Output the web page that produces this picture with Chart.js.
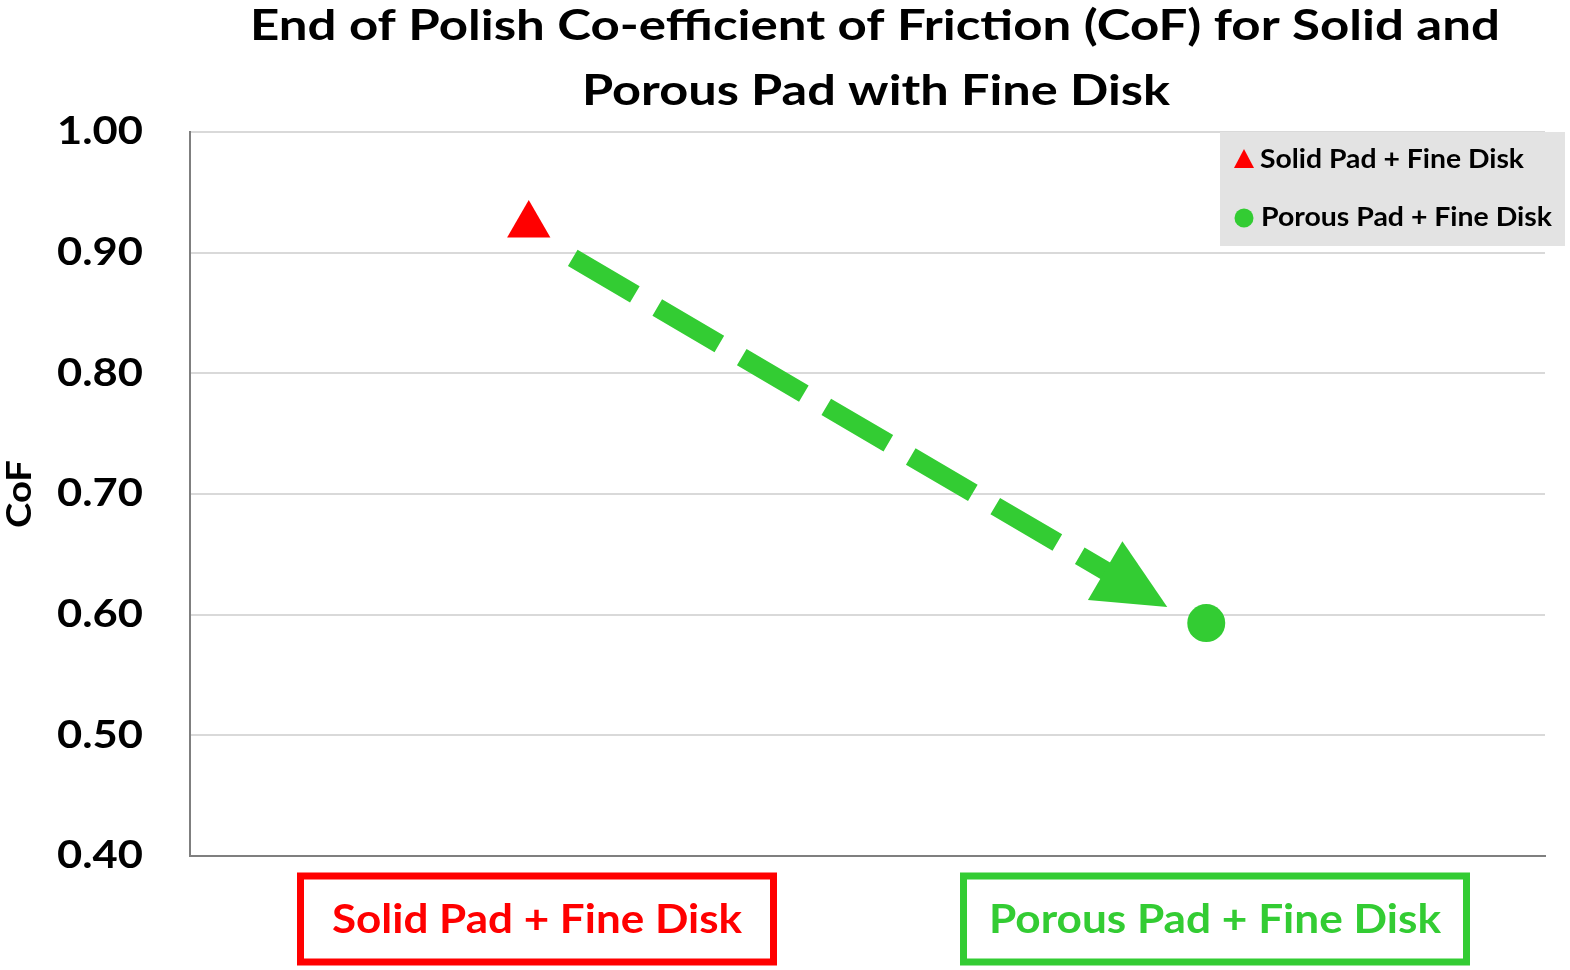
<!DOCTYPE html>
<html><head><meta charset="utf-8">
<script src="https://cdn.jsdelivr.net/npm/chart.js@4/dist/chart.umd.min.js"></script>
<style>html,body{margin:0;padding:0;background:#fff}#w{width:1570px;height:970px}</style>
</head><body><div id="w"><canvas id="c"></canvas></div>
<script>
const categories = ["Solid Pad + Fine Disk", "Porous Pad + Fine Disk"];
const solidValues = [0.923, null];
const porousValues = [null, 0.593];
const yTicks = [0.40, 0.50, 0.60, 0.70, 0.80, 0.90, 1.00];
const titleLines = ["End of Polish Co-efficient of Friction (CoF) for Solid and", "Porous Pad with Fine Disk"];
const RED = "#ff0000", GREEN = "#33cc33";
const F = "Lato, 'Open Sans', sans-serif";

function fitText(ctx, t, x, y, w, align) {
  const m = ctx.measureText(t).width, s = w / m;
  ctx.save(); ctx.translate(x, y); ctx.scale(s, 1); ctx.textAlign = align;
  ctx.fillText(t, 0, 0); ctx.restore();
}

const deco = {
  id: "deco",
  afterDraw(chart) {
    const ctx = chart.ctx, x = chart.scales.x, y = chart.scales.y;
    ctx.save();
    ctx.fillStyle = "#000"; ctx.textBaseline = "middle";
    ctx.font = "bold 42px " + F;
    fitText(ctx, titleLines[0], 875, 26, 1250, "center");
    fitText(ctx, titleLines[1], 876, 91, 588, "center");
    ctx.save(); ctx.translate(20, 494); ctx.rotate(-Math.PI / 2);
    ctx.font = "bold 34px " + F; fitText(ctx, "CoF", 0, 0, 68, "center"); ctx.restore();
    // arrow
    const x0 = x.getPixelForValue(0) + 44, y0 = y.getPixelForValue(solidValues[0]) + 33;
    const x1 = x.getPixelForValue(1) - 39, y1 = y.getPixelForValue(porousValues[1]) - 16;
    const ang = Math.atan2(y1 - y0, x1 - x0), hl = 72, hw = 34;
    const bx = x1 - hl * Math.cos(ang), by = y1 - hl * Math.sin(ang);
    ctx.strokeStyle = GREEN; ctx.lineWidth = 19; ctx.setLineDash([72, 26]);
    ctx.beginPath(); ctx.moveTo(x0, y0); ctx.lineTo(bx + 10 * Math.cos(ang), by + 10 * Math.sin(ang)); ctx.stroke();
    ctx.setLineDash([]); ctx.fillStyle = GREEN;
    ctx.beginPath(); ctx.moveTo(x1, y1);
    ctx.lineTo(bx + hw * Math.sin(ang), by - hw * Math.cos(ang));
    ctx.lineTo(bx - hw * Math.sin(ang), by + hw * Math.cos(ang));
    ctx.closePath(); ctx.fill();
    // category boxes
    const boxes = [[297, 777, RED, 410], [960, 1470, GREEN, 452]];
    categories.forEach((c, i) => {
      const b = boxes[i];
      ctx.strokeStyle = b[2]; ctx.lineWidth = 7;
      ctx.strokeRect(b[0] + 3.5, 876, b[1] - b[0] - 7, 86);
      ctx.fillStyle = b[2]; ctx.font = "bold 40px " + F;
      fitText(ctx, c, (b[0] + b[1]) / 2, 920, b[3], "center");
    });
    // legend
    ctx.fillStyle = "#e3e3e3"; ctx.fillRect(1220, 132, 345, 114);
    ctx.font = "bold 26px " + F; ctx.fillStyle = "#000";
    fitText(ctx, chart.data.datasets[0].label, 1260, 160, 264, "left");
    fitText(ctx, chart.data.datasets[1].label, 1261, 218, 291, "left");
    ctx.fillStyle = RED; ctx.beginPath();
    ctx.moveTo(1244, 149); ctx.lineTo(1254, 168); ctx.lineTo(1234, 168); ctx.closePath(); ctx.fill();
    ctx.fillStyle = GREEN; ctx.beginPath(); ctx.arc(1244, 218, 9.5, 0, 2 * Math.PI); ctx.fill();
    // y tick labels
    ctx.fillStyle = "#000"; ctx.font = "bold 38px " + F;
    yTicks.forEach(v => fitText(ctx, v.toFixed(2), 143, y.getPixelForValue(v), 86, "right"));
    ctx.restore();
  }
};

new Chart(document.getElementById("c"), {
  type: "line",
  data: {
    labels: categories,
    datasets: [
      { label: "Solid Pad + Fine Disk", data: solidValues, showLine: false, pointStyle: "triangle",
        pointRadius: 25, backgroundColor: RED, borderColor: RED, borderWidth: 0 },
      { label: "Porous Pad + Fine Disk", data: porousValues, showLine: false, pointStyle: "circle",
        pointRadius: 19, backgroundColor: GREEN, borderColor: GREEN, borderWidth: 0 }
    ]
  },
  options: {
    responsive: true, maintainAspectRatio: false, animation: false,
    layout: { padding: { top: 132, right: 3, bottom: 114, left: 0 } },
    plugins: { legend: { display: false }, title: { display: false }, tooltip: { enabled: false } },
    scales: {
      x: { offset: true, ticks: { display: false },
           grid: { display: false, drawTicks: false },
           border: { color: "#7f7f7f", width: 2 } },
      y: { min: 0.4, max: 1.0, afterFit(s) { s.width = 190; },
           afterBuildTicks(s) { s.ticks = yTicks.map(v => ({ value: v })); },
           ticks: { display: false },
           grid: { color: "#d9d9d9", lineWidth: 2, drawTicks: false },
           border: { color: "#7f7f7f", width: 2 } }
    }
  },
  plugins: [deco]
});
</script></body></html>
